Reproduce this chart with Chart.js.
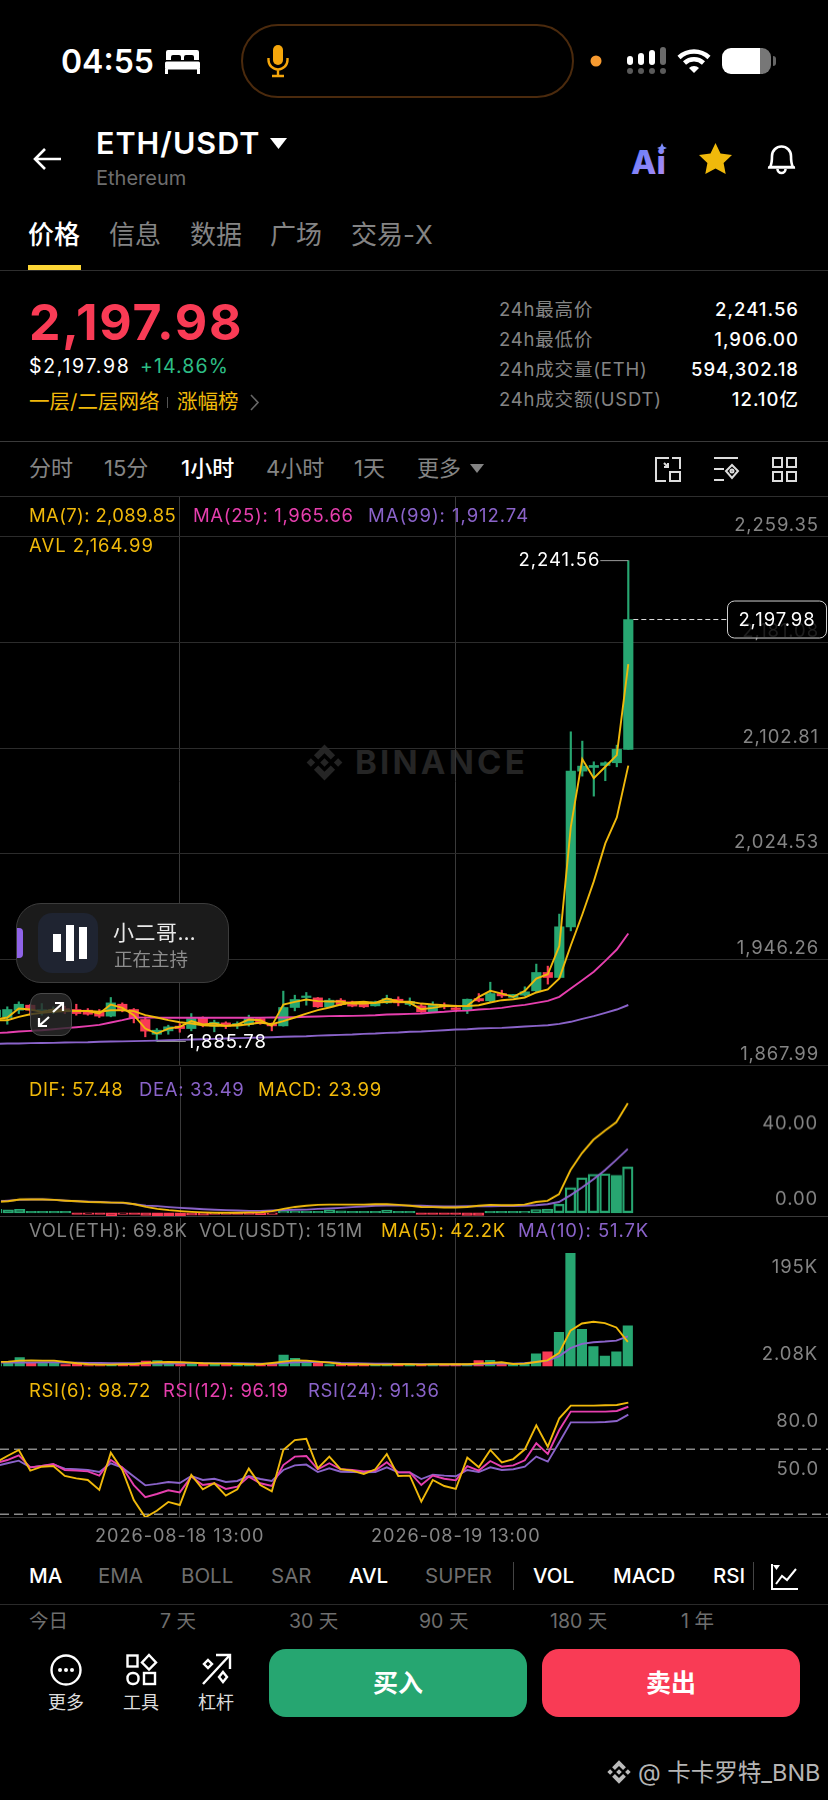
<!DOCTYPE html>
<html lang="zh">
<head>
<meta charset="UTF-8">
<title>ETH/USDT</title>
<script src="https://cdn.jsdelivr.net/npm/chart.js"></script>
<style>
  html, body { margin: 0; background: #000; }
  #page { position: relative; width: 828px; height: 1800px; overflow: hidden; background: #000; color: #fff;
          font-family: Inter, "Noto Sans CJK SC", sans-serif; }
  .t { position: absolute; white-space: nowrap; transform: translateY(-50%); line-height: 1; }
  .r { text-align: right; }
  .hr { position: absolute; left: 0; width: 828px; height: 1px; background: #2e2e2e; }
  .panel { position: absolute; left: 0; width: 828px; z-index: 1; }
  svg { position: absolute; overflow: visible; }
  .grey { color: #848484; }
  .dim { color: #6e6e6e; }
  .yel { color: #F0B90B; }
  .pink { color: #E63FAE; }
  .pur { color: #8A63C9; }
  .leg { font-size: 18.5px; letter-spacing: .65px; }
  .ind { font-size: 20.5px; top: 1576px; font-weight: 500; }
  .rng { font-size: 19.5px; top: 1622px; color: #6e6e6e; }
  .btn { position: absolute; top: 1649px; height: 68px; width: 258px; border-radius: 17px; text-align: center;
         line-height: 68px; font-size: 25px; font-weight: 700; }
  .ico { font-size: 18px; top: 1703px; color: #ddd; }
  .stat { font-size: 18.5px; letter-spacing: .8px; }
  .val { font-size: 18.5px; font-weight: 500; letter-spacing: 1px; right: 29px; }
  .tf { font-size: 22px; top: 468px; }
</style>
</head>
<body>
<div id="page">

  <!-- status bar -->
  <span class="t" style="left:61px;top:62px;font-size:32px;font-weight:600">04:55</span>
  <svg style="left:165px;top:50px" width="35" height="24" viewBox="0 0 35 24" fill="#fff">
    <path d="M3 0h29a2 2 0 0 1 2 2v8h-5V7a2 2 0 0 0-2-2h-6a2 2 0 0 0-2 2v3h-3V7a2 2 0 0 0-2-2H8a2 2 0 0 0-2 2v3H1V2a2 2 0 0 1 2-2z"/>
    <rect x="0" y="11.5" width="35" height="8" rx="1.5"/><rect x="0" y="19" width="3" height="5"/><rect x="32" y="19" width="3" height="5"/>
  </svg>
  <div style="position:absolute;left:241px;top:24px;width:329px;height:70px;border:2.5px solid #4b2a0d;border-radius:37px"></div>
  <svg style="left:267px;top:45px" width="22" height="32" viewBox="0 0 22 32" fill="none" stroke="#F5A60B" stroke-width="2.4">
    <rect x="6" y="0" width="10" height="20" rx="5" fill="#F5A60B" stroke="none"/>
    <path d="M1.5 13v2a9.5 9.5 0 0 0 19 0v-2M11 25v6M5 31h12"/>
  </svg>
  <svg style="left:590px;top:55px" width="12" height="12"><circle cx="6" cy="6" r="5.5" fill="#F79A30"/></svg>
  <svg style="left:627px;top:47px" width="40" height="28" fill="#fff">
    <rect x="0" y="9" width="6" height="9" rx="3"/><rect x="11" y="6" width="6" height="12" rx="3"/><rect x="22" y="3" width="6" height="15" rx="3"/>
    <rect x="33" y="0" width="6" height="18" rx="3" fill="#6a6a6a"/>
    <g fill="#5a5a5a"><circle cx="3" cy="24" r="3"/><circle cx="14" cy="24" r="3"/><circle cx="25" cy="24" r="3"/><circle cx="36" cy="24" r="3"/></g>
  </svg>
  <svg style="left:677px;top:48px" width="34" height="26" viewBox="0 0 34 26" fill="none" stroke="#fff" stroke-width="4.5">
    <path d="M2 9.5a22 22 0 0 1 30 0M7.5 15a14 14 0 0 1 19 0"/><path d="M17 25l-5-5a7 7 0 0 1 10 0z" fill="#fff" stroke="none"/>
  </svg>
  <div style="position:absolute;left:722px;top:48px;width:49px;height:26px;border-radius:9px;background:linear-gradient(90deg,#fff 0 78%,#777 78%)"></div>
  <div style="position:absolute;left:773px;top:56px;width:3px;height:10px;border-radius:0 3px 3px 0;background:#666"></div>

  <!-- title row -->
  <svg style="left:33px;top:147px" width="29" height="24" viewBox="0 0 29 24" fill="none" stroke="#fff" stroke-width="2.6"><path d="M28 12H2M12 2L2 12l10 10"/></svg>
  <span class="t" style="left:96px;top:143px;font-size:30.5px;font-weight:600;letter-spacing:1px">ETH/USDT</span>
  <svg style="left:270px;top:138px" width="17" height="11"><path d="M0 0h17l-8.5 11z" fill="#fff"/></svg>
  <span class="t dim" style="left:96px;top:178px;font-size:20px">Ethereum</span>
  <svg style="left:631px;top:143px" width="38" height="32" viewBox="0 0 38 32">
    <defs><linearGradient id="ai" x1="0" y1="0" x2="1" y2="1"><stop offset="0" stop-color="#5C7CFA"/><stop offset="1" stop-color="#B48CF5"/></linearGradient></defs>
    <text x="0" y="31" font-family="Inter" font-weight="800" font-size="33" fill="url(#ai)">Ai</text>
    <path d="M31 0l1.5 3.5L36 5l-3.5 1.5L31 10l-1.5-3.5L26 5l3.5-1.5z" fill="#7C8CFA"/>
  </svg>
  <svg style="left:699px;top:143px" width="33" height="31" viewBox="0 0 33 31"><path d="M16.5 0l5 10.6 11.5 1.5-8.4 8 2.1 11-10.2-5.6-10.2 5.6 2.1-11L0 12.1l11.5-1.5z" fill="#F0B90B"/></svg>
  <svg style="left:766px;top:143px" width="31" height="32" viewBox="0 0 31 32" fill="none" stroke="#fff" stroke-width="2.6"><path d="M4 24c2-3 2-6 2-11a9.5 9.5 0 0 1 19 0c0 5 0 8 2 11zM2 24.5h27M11.5 26a4 4 0 0 0 8 0"/></svg>

  <!-- tabs -->
  <span class="t" style="left:28px;top:235px;font-size:26px;font-weight:500">价格</span>
  <span class="t grey" style="left:109px;top:235px;font-size:26px">信息</span>
  <span class="t grey" style="left:190px;top:235px;font-size:26px">数据</span>
  <span class="t grey" style="left:270px;top:235px;font-size:26px">广场</span>
  <span class="t grey" style="left:351px;top:235px;font-size:26px">交易-X</span>
  <div style="position:absolute;left:28px;top:265px;width:53px;height:5px;background:#FCD535"></div>
  <div class="hr" style="top:270px"></div>

  <!-- ticker -->
  <span class="t" style="left:29px;top:322px;font-size:50px;font-weight:700;color:#F93B55;letter-spacing:1.7px">2,197.98</span>
  <span class="t" style="left:29px;top:367px;font-size:19.5px;letter-spacing:1.7px">$2,197.98</span>
  <span class="t" style="left:140px;top:367px;font-size:19.5px;color:#2DBD85;letter-spacing:1.1px">+14.86%</span>
  <span class="t yel" style="left:29px;top:402px;font-size:20.5px">一层/二层网络</span>
  <div style="position:absolute;left:167px;top:397px;width:1px;height:11px;background:#555"></div>
  <span class="t yel" style="left:177px;top:402px;font-size:20.5px">涨幅榜</span>
  <svg style="left:250px;top:394px" width="9" height="17" fill="none" stroke="#666" stroke-width="1.6"><path d="M1 1l7 7.5-7 7.5"/></svg>

  <span class="t grey stat" style="left:499px;top:309px">24h最高价</span>
  <span class="t grey stat" style="left:499px;top:339px">24h最低价</span>
  <span class="t grey stat" style="left:499px;top:369px">24h成交量(ETH)</span>
  <span class="t grey stat" style="left:499px;top:399px">24h成交额(USDT)</span>
  <span class="t r val" style="top:309px">2,241.56</span>
  <span class="t r val" style="top:339px">1,906.00</span>
  <span class="t r val" style="top:369px">594,302.18</span>
  <span class="t r val" style="top:399px">12.10亿</span>
  <div class="hr" style="top:441px;background:#3a3a3a"></div>

  <!-- interval row -->
  <span class="t grey tf" style="left:29px">分时</span>
  <span class="t grey tf" style="left:104px">15分</span>
  <span class="t tf" style="left:181px;font-weight:500">1小时</span>
  <span class="t grey tf" style="left:266px">4小时</span>
  <span class="t grey tf" style="left:354px">1天</span>
  <span class="t grey tf" style="left:417px">更多</span>
  <svg style="left:470px;top:464px" width="14" height="9"><path d="M0 0h14l-7 9z" fill="#848484"/></svg>
  <svg style="left:655px;top:457px" width="26" height="25" fill="none" stroke="#ddd" stroke-width="2"><path d="M14 1H1v23h10M25 12V1h-8M9 6l4 4M13 6v4H9"/><rect x="15" y="15" width="10" height="9"/></svg>
  <svg style="left:713px;top:457px" width="27" height="25" fill="none" stroke="#ddd" stroke-width="2"><path d="M1 1h24M1 12h10M1 23h10"/><path d="M19 8l6 6-6 7-6-7z"/><circle cx="19" cy="14" r="1.5"/></svg>
  <svg style="left:772px;top:457px" width="25" height="25" fill="none" stroke="#ddd" stroke-width="2"><rect x="1" y="1" width="9" height="9"/><rect x="15" y="1" width="9" height="9"/><rect x="1" y="15" width="9" height="9"/><rect x="15" y="15" width="9" height="9"/></svg>
  <div class="hr" style="top:496px"></div>

  <!-- chart watermark, sits under the price canvas -->
  <svg style="left:303px;top:741px" width="43" height="43" viewBox="0 0 24 24" fill="#252525">
    <path d="M12 9.6L14.4 12 12 14.4 9.6 12zM12 2l5.9 5.9-2.4 2.4L12 6.8l-3.5 3.5-2.4-2.4zM12 22l5.9-5.9-2.4-2.4-3.5 3.5-3.5-3.5-2.4 2.4zM2 12l2.4-2.4L6.8 12l-2.4 2.4zM22 12l-2.4-2.4-2.4 2.4 2.4 2.4z"/>
  </svg>
  <span class="t" style="left:355px;top:762px;font-size:33px;font-weight:700;letter-spacing:3.2px;color:#252525">BINANCE</span>

  <div class="panel" style="top:497px;height:569px"><canvas id="priceChart"></canvas></div>
  <div class="panel" style="top:1066px;height:150.5px"><canvas id="macdChart"></canvas></div>
  <div class="panel" style="top:1216.5px;height:150.5px"><canvas id="volChart"></canvas></div>
  <div class="panel" style="top:1367px;height:185px"><canvas id="rsiChart"></canvas></div>
  <div class="hr" style="top:1216px;z-index:2;background:#3a3a3a"></div>

  <!-- indicator legends -->
  <div style="position:absolute;inset:0;z-index:2;pointer-events:none">
    <span class="t leg yel" style="left:29px;top:515px;letter-spacing:.35px">MA(7): 2,089.85</span>
    <span class="t leg pink" style="left:193px;top:515px">MA(25): 1,965.66</span>
    <span class="t leg pur" style="left:368px;top:515px;letter-spacing:.95px">MA(99): 1,912.74</span>
    <span class="t leg yel" style="left:29px;top:545px;letter-spacing:.95px">AVL 2,164.99</span>
    <span class="t leg yel" style="left:29px;top:1089px">DIF: 57.48</span>
    <span class="t leg pur" style="left:139px;top:1089px">DEA: 33.49</span>
    <span class="t leg yel" style="left:258px;top:1089px">MACD: 23.99</span>
    <span class="t leg grey" style="left:29px;top:1230px">VOL(ETH): 69.8K</span>
    <span class="t leg grey" style="left:199px;top:1230px">VOL(USDT): 151M</span>
    <span class="t leg yel" style="left:381px;top:1230px">MA(5): 42.2K</span>
    <span class="t leg pur" style="left:518px;top:1230px;letter-spacing:.9px">MA(10): 51.7K</span>
    <span class="t leg yel" style="left:29px;top:1390px">RSI(6): 98.72</span>
    <span class="t leg pink" style="left:163px;top:1390px">RSI(12): 96.19</span>
    <span class="t leg pur" style="left:308px;top:1390px">RSI(24): 91.36</span>
  </div>

  <!-- floating host pill and expand button -->
  <div style="position:absolute;left:16px;top:903px;width:211px;height:78px;background:#1b1b1b;border:1.5px solid #3c3c3c;border-radius:25px;z-index:3"></div>
  <div style="position:absolute;left:17px;top:928px;width:6px;height:30px;background:#8F63E8;border-radius:0 4px 4px 0;z-index:4"></div>
  <div style="position:absolute;left:38px;top:913px;width:60px;height:60px;background:#1f2431;border-radius:14px;z-index:4"></div>
  <svg style="left:38px;top:913px;z-index:5" width="60" height="60" fill="#fff"><rect x="15" y="21" width="8" height="18"/><rect x="28" y="12" width="8" height="36"/><rect x="41" y="14" width="8" height="32"/></svg>
  <span class="t" style="left:113px;top:932px;font-size:21px;z-index:5;color:#e8e8e8;letter-spacing:.5px">小二哥…</span>
  <span class="t" style="left:114px;top:959px;font-size:18.5px;z-index:5;color:#8d8d8d">正在主持</span>
  <div style="position:absolute;left:30px;top:993px;width:40px;height:41px;background:rgba(42,42,42,.8);border:1.5px solid #4a4a4a;border-radius:11px;z-index:3"></div>
  <svg style="left:38px;top:1002px;z-index:4" width="26" height="25" fill="none" stroke="#fff" stroke-width="2.2"><path d="M15 10L25 1M17 1h8v8M11 15L1 24M9 24H1v-8"/></svg>

  <!-- indicator row -->
  <span class="t ind" style="left:29px">MA</span>
  <span class="t ind dim" style="left:98px;font-weight:400">EMA</span>
  <span class="t ind dim" style="left:181px;font-weight:400">BOLL</span>
  <span class="t ind dim" style="left:271px;font-weight:400">SAR</span>
  <span class="t ind" style="left:349px">AVL</span>
  <span class="t ind dim" style="left:425px;font-weight:400">SUPER</span>
  <div style="position:absolute;left:513px;top:1562px;width:1px;height:28px;background:#444"></div>
  <span class="t ind" style="left:533px">VOL</span>
  <span class="t ind" style="left:613px">MACD</span>
  <span class="t ind" style="left:713px">RSI</span>
  <div style="position:absolute;left:753px;top:1562px;width:1px;height:28px;background:#444"></div>
  <svg style="left:771px;top:1564px" width="27" height="26" fill="none" stroke="#fff" stroke-width="2"><path d="M1 0v25h26M5 20l6-8 5 4 9-11"/><path d="M2 1h7l-3.5 5z" fill="#fff" stroke="none"/></svg>
  <div class="hr" style="top:1604px;background:#2a2a2a"></div>

  <span class="t rng" style="left:29px">今日</span>
  <span class="t rng" style="left:160px">7 天</span>
  <span class="t rng" style="left:289px">30 天</span>
  <span class="t rng" style="left:419px">90 天</span>
  <span class="t rng" style="left:550px">180 天</span>
  <span class="t rng" style="left:681px">1 年</span>

  <!-- bottom actions -->
  <svg style="left:50px;top:1654px" width="32" height="32" fill="none" stroke="#fff" stroke-width="2.4"><circle cx="16" cy="16" r="14.5"/><g fill="#fff" stroke="none"><circle cx="10" cy="16" r="2"/><circle cx="16" cy="16" r="2"/><circle cx="22" cy="16" r="2"/></g></svg>
  <span class="t ico" style="left:48px">更多</span>
  <svg style="left:126px;top:1654px" width="31" height="31" fill="none" stroke="#fff" stroke-width="2.4"><rect x="1.5" y="1.5" width="10" height="11"/><path d="M23 1l7 7.5-7 7-7-7z"/><rect x="1.5" y="19" rx="5" width="11" height="11"/><rect x="18" y="19" width="11" height="11"/></svg>
  <span class="t ico" style="left:123px">工具</span>
  <svg style="left:202px;top:1654px" width="29" height="31" fill="none" stroke="#fff" stroke-width="2.4"><path d="M1 30L27 2M14 1h14v14"/><path d="M6 6l4 4-4 4-4-4zM21 18l4 5-4 5-4-5z"/></svg>
  <span class="t ico" style="left:198px">杠杆</span>
  <div class="btn" style="left:269px;background:#26A671">买入</div>
  <div class="btn" style="left:542px;background:#F93B55">卖出</div>

  <svg style="left:605px;top:1758px" width="28" height="28" viewBox="0 0 24 24" fill="#bbb">
    <path d="M12 9.6L14.4 12 12 14.4 9.6 12zM12 2l5.9 5.9-2.4 2.4L12 6.8l-3.5 3.5-2.4-2.4zM12 22l5.9-5.9-2.4-2.4-3.5 3.5-3.5-3.5-2.4 2.4zM2 12l2.4-2.4L6.8 12l-2.4 2.4zM22 12l-2.4-2.4-2.4 2.4 2.4 2.4z"/>
  </svg>
  <span class="t" style="left:638px;top:1773px;font-size:23.5px;color:#b5b5b5">@ 卡卡罗特_BNB</span>
</div>

<script>
// 1h candles, oldest first, index 0 is mostly off the left edge
const opens = [1904, 1903.5, 1908.9, 1912.6, 1908.2, 1907.7, 1910.1, 1909.4, 1908.9, 1907.7, 1904.5, 1913.3, 1909.4, 1902, 1891.1, 1893.6, 1897.1, 1895.3, 1903.5, 1897.1, 1899.5, 1897.3, 1898.3, 1902.7, 1899, 1897.3, 1910.9, 1918.3, 1918, 1911.4, 1916.3, 1915.1, 1914.3, 1912.1, 1914.3, 1917, 1913.1, 1912.1, 1907.7, 1912.6, 1910.6, 1908.9, 1917.5, 1915.8, 1921.2, 1918.3, 1920, 1923.2, 1936.8, 1933.1, 1970.6, 2085.8, 2088.5, 2090, 2092, 2101.9];
const highs = [1911, 1911.4, 1915.1, 1913.1, 1913.8, 1911.4, 1911.9, 1913.3, 1910.1, 1909.4, 1918.3, 1914.3, 1910.1, 1904, 1895.3, 1897.8, 1899, 1906.4, 1904, 1901.5, 1900.3, 1900.3, 1905.2, 1903.5, 1899.5, 1923, 1920, 1922, 1918.3, 1917.5, 1917.5, 1915.6, 1915.1, 1915.6, 1920, 1918.8, 1918, 1913.3, 1915.1, 1914.3, 1912.6, 1917.2, 1921.2, 1929.6, 1923.7, 1920.6, 1926.2, 1943, 1941.5, 1980, 2114.9, 2108, 2092.7, 2092.7, 2105, 2241.56];
const lows = [1902, 1898.5, 1906.4, 1905.2, 1905.2, 1906.4, 1906.4, 1905.2, 1905.2, 1903.5, 1904, 1907.7, 1899.5, 1889.2, 1885.78, 1891.1, 1892.6, 1893.6, 1896.6, 1892.9, 1895.3, 1895.3, 1897.1, 1898.5, 1893.6, 1897.1, 1908.4, 1912.6, 1910.9, 1910.9, 1912.3, 1911.4, 1910.9, 1911.9, 1913.8, 1912.1, 1912.1, 1907.2, 1907.2, 1909.9, 1907.7, 1906.4, 1915.1, 1915.1, 1918.3, 1918.2, 1919.3, 1922.5, 1928.2, 1932.6, 1967.6, 2082.1, 2067.3, 2078.7, 2089, 2101.9];
const closes = [1908.9, 1909.4, 1913.3, 1908.9, 1908.9, 1909.4, 1907.7, 1906.4, 1905.9, 1904.5, 1914.3, 1909.4, 1902.7, 1893.4, 1894.1, 1896.6, 1895.3, 1902.7, 1899, 1900, 1897.1, 1899, 1902.7, 1899, 1897.3, 1910.9, 1916.8, 1919.3, 1911.4, 1916.3, 1913.1, 1911.9, 1911.4, 1915.1, 1917.5, 1914.3, 1915.3, 1907.7, 1912.6, 1911.4, 1909.4, 1917, 1915.8, 1921.2, 1919.5, 1920.5, 1922.5, 1936.8, 1933.1, 1970.6, 2085.8, 2089.5, 2090, 2092, 2101.9, 2197.98];

const ma7 = [1901.5, 1901.5, 1904, 1905.9, 1906.9, 1907.7, 1908.2, 1908.4, 1908.4, 1907.7, 1908.9, 1908.9, 1908.2, 1905.2, 1903.5, 1901.5, 1900, 1899, 1897.8, 1897.3, 1897.3, 1897.6, 1898.5, 1899.8, 1898.5, 1900.8, 1903.5, 1906.4, 1908.9, 1910.9, 1913.1, 1914.6, 1915.1, 1914.3, 1915.1, 1915.1, 1915.1, 1913.8, 1913.1, 1912.6, 1912.1, 1911.9, 1912.6, 1914.6, 1916.3, 1917, 1918.3, 1922, 1924.2, 1932.4, 1956.8, 1979.7, 2004.2, 2032.3, 2051.5, 2089.85];
const ma25 = [1891.9, 1892.4, 1893.1, 1893.6, 1894.1, 1894.8, 1895.6, 1896.3, 1897.1, 1898, 1899.8, 1901.5, 1903.5, 1903.4, 1903.4, 1903.3, 1903.3, 1903.3, 1903.3, 1903.3, 1903.3, 1903.3, 1903.3, 1903.4, 1903.5, 1903.5, 1903.7, 1904, 1904.2, 1904.5, 1904.6, 1904.7, 1904.9, 1905.2, 1905.7, 1905.9, 1906.2, 1906.4, 1907.2, 1907.7, 1908.4, 1908.6, 1909.4, 1909.9, 1910.6, 1911.9, 1912.8, 1914.3, 1915.8, 1918.8, 1924.9, 1931.1, 1937.3, 1945.4, 1953.8, 1965.66];
const ma99 = [1884, 1884.2, 1884.3, 1884.5, 1884.6, 1884.7, 1885, 1885.1, 1885.2, 1885.5, 1885.7, 1885.8, 1886, 1886.2, 1886.4, 1886.7, 1886.9, 1887.2, 1887.4, 1887.7, 1887.9, 1888.2, 1888.4, 1888.7, 1888.9, 1889.2, 1889.4, 1889.6, 1890.1, 1890.4, 1890.6, 1890.9, 1891.4, 1891.6, 1892.1, 1892.4, 1892.9, 1893.1, 1893.6, 1894.1, 1894.6, 1894.8, 1895.3, 1895.6, 1895.8, 1896.3, 1896.8, 1897.3, 1897.8, 1898.8, 1900.3, 1902.5, 1904.5, 1906.9, 1909.4, 1912.74];
const avl = [1902, 1903.5, 1910.1, 1909.4, 1907.7, 1909.4, 1908.9, 1908.4, 1908.2, 1906.4, 1913.1, 1910.6, 1905.2, 1895.3, 1891.6, 1895.3, 1896.6, 1900.8, 1898.3, 1899, 1897.3, 1898.3, 1902, 1901.5, 1897.3, 1913.1, 1915.1, 1916.8, 1915.6, 1915.3, 1915.3, 1913.8, 1913.8, 1914.3, 1917.5, 1915.3, 1914.3, 1909.6, 1910.6, 1911.9, 1911.9, 1912.1, 1918.8, 1923.2, 1921.2, 1918.8, 1923.2, 1932.3, 1935.5, 1956.3, 2044.6, 2094.7, 2080.6, 2089, 2097.7, 2164.99];

const dif = [5.7, 6.1, 7, 7, 7, 6.8, 6.4, 6.1, 5.7, 5.6, 5.4, 5.4, 4.5, 3.1, 2.1, 1.4, 0.9, 0.5, 0.2, 0, 0, 0, 0.2, 0.3, 0.9, 2.1, 3.1, 3.7, 4.2, 4.3, 4.3, 4.3, 4.3, 4.5, 4.5, 4.2, 3.7, 3.1, 3, 2.8, 2.8, 3.1, 3.7, 4.2, 4, 4, 4.3, 5.7, 6.3, 9.7, 22.3, 31.3, 38.3, 43.1, 47.5, 57.48];
const dea = [6.1, 6.4, 6.8, 7, 7, 6.8, 6.4, 6.1, 5.9, 5.7, 5.4, 5.2, 4.5, 3.8, 3.5, 3, 2.6, 2.3, 1.9, 1.6, 1.4, 1.2, 1, 1, 1.2, 1.4, 1.6, 1.7, 2.1, 2.3, 2.6, 3, 3.3, 3.7, 3.8, 3.8, 3.8, 3.7, 3.5, 3.3, 3.3, 3.5, 3.4, 3.4, 3.5, 3.5, 3.7, 4, 4.5, 5.7, 9.2, 13.2, 17.6, 22.3, 27.8, 33.49];
const macd = [1.8, 1.6, 1.8, 0.8, 0.7, 0.6, 0.5, -0.6, -0.5, -0.5, -1.5, -0.5, -0.5, -1.4, -1.9, -1.9, -2, -1.3, -1.2, -0.7, -0.6, -0.8, -0.9, -1, -0.4, 0.3, 0.6, 0.8, 0.7, 1.6, 1, 0.6, 0.5, 0.5, 1.4, 0.6, 0.5, -0.5, -0.5, -0.5, -0.5, -1.4, -1.4, 0.8, 0.7, 0.6, 0.7, 1.7, 1.9, 4.5, 13.2, 18.3, 20.2, 20.5, 19.6, 23.99];

const volumes = [4, 5.7, 14.8, 5.1, 6.8, 5.7, 2.8, 4.5, 1.1, 1.1, 2.8, 2.8, 2.8, 9.1, 9.7, 5.1, 7.4, 5.1, 5.1, 4, 5.1, 1.7, 4, 1.7, 4, 19.3, 13.6, 6.8, 5.1, 2.8, 2.8, 4, 1.7, 2.8, 4, 2.8, 2.8, 4, 2.8, 2.8, 4, 4, 9.7, 10.2, 5.1, 2.8, 5.7, 21.6, 25, 58.5, 195, 63.6, 34, 17.6, 25, 69.8];
const volMa5 = [7.4, 8, 9.7, 10, 9.7, 9.7, 7.4, 5.1, 3.4, 2.8, 2.8, 3.4, 4, 5.7, 6.8, 7.4, 6.8, 6.2, 5.1, 4.5, 4.5, 4, 3.4, 3.4, 5.7, 8, 10.2, 9.7, 8, 6.2, 4, 3.4, 3.4, 2.8, 2.8, 3.4, 3.4, 2.8, 3.4, 3.4, 3.4, 3.4, 4.5, 5.7, 6.8, 4, 4.5, 7.4, 10.2, 22.7, 61.3, 73.8, 76.7, 74.4, 67, 42.2];
const volMa10 = [6.2, 6.2, 6.5, 6.5, 6.8, 6.8, 6.2, 6, 5.7, 5.7, 5.1, 5.1, 5.1, 5.1, 4.8, 4.8, 5.1, 5.4, 5.4, 5.4, 5.4, 5.1, 4.8, 4.5, 4.8, 5.7, 6.8, 7.4, 7.4, 6.8, 5.7, 5.1, 4.8, 4.5, 4.5, 4.2, 4, 3.7, 3.4, 3.1, 3.1, 3.1, 3.4, 4, 4.5, 4.5, 5.1, 7.4, 9.7, 17, 31.2, 38.6, 41.5, 42.6, 44.3, 51.7];

const rsi6 = [61.8, 65.9, 69.6, 56.9, 59.3, 59.7, 53.6, 52.1, 51.1, 45, 67.9, 57.3, 38.8, 28.1, 32.2, 37.6, 35.7, 54.2, 45.4, 49.1, 41.5, 45.4, 58.1, 48, 44.1, 69.6, 75.7, 76.5, 58.3, 65.5, 57.7, 56.9, 54.8, 57.7, 67.1, 53.6, 53.8, 37.8, 51.1, 47.4, 45.6, 64.9, 58.9, 69.6, 62, 64, 70, 84.8, 71.6, 89.1, 96.9, 96.9, 96.9, 97.1, 97.3, 98.72];
const rsi12 = [61.4, 63.4, 66.3, 58.9, 59.7, 61, 57.3, 56.9, 56.4, 53.8, 63.4, 58.9, 48, 40.6, 42.5, 44.8, 43.5, 53.2, 48, 49.1, 45.6, 47, 53.2, 49.1, 47.4, 60.3, 65.5, 65.9, 57.7, 61.4, 57.7, 57.3, 56.4, 56.9, 62, 55.8, 55.8, 48, 53.8, 51.9, 50.9, 59.7, 56.9, 62.8, 59.3, 60.1, 63.2, 73.7, 67.1, 81.9, 93.2, 93.2, 93.2, 93.2, 93.6, 96.19];
const rsi24 = [59.7, 61.4, 63, 58.9, 59.7, 60.6, 58.1, 57.7, 57.3, 56, 61.4, 58.7, 53.2, 47.8, 48.7, 49.9, 49.3, 53.6, 51.1, 51.9, 49.9, 50.5, 53.6, 51.7, 50.5, 57.3, 60.1, 60.6, 56, 58.3, 56.2, 56, 55.8, 56, 58.9, 55.8, 55.8, 51.7, 54.4, 53.8, 53.4, 57.3, 56, 58.9, 57.3, 57.7, 59.3, 65.5, 62.4, 74.3, 86.6, 86.6, 86.6, 86.8, 87.4, 91.36];
const rsiLevels = [70, 30];

const priceTicks = [2259.35, 2181.08, 2102.81, 2024.53, 1946.26, 1867.99];
const macdTicks = [40, 0];
const volTickLow = [2.08];
const volTickHigh = [195];
const rsiTicks = [80, 50];
const timeTicks = [16, 40];
const timeLabels = ['2026-08-18 13:00', '2026-08-19 13:00'];

const UP = '#27A671', DOWN = '#F93B55', YELLOW = '#F0B90B', PINK = '#E63FAE', PURPLE = '#8A63C9';
const TICK_GREY = '#848484', GRID = '#2c2c2c', VLINE = '#3a3a3a';
const FONT = 'Inter, "Noto Sans CJK SC", sans-serif';
const X_MIN = 0.365, X_MAX = 72.365;   // keeps one candle = 11.5px with the last one at x=628

const fmtPrice = v => v.toLocaleString('en-US', { minimumFractionDigits: 2, maximumFractionDigits: 2 });
const pts = arr => arr.map((v, i) => ({ x: i, y: v }));
const isUp = i => closes[i] >= opens[i];

// the app's axis text is wider than Inter, letterSpacing has to be set again after every resize
Chart.register({ id: 'wideText', beforeDraw(chart) { chart.ctx.letterSpacing = '0.9px'; } });

function line(data, color, yAxisID = 'y') {
    return { type: 'line', data: pts(data), borderColor: color, borderWidth: 1.9, pointRadius: 0, tension: 0, order: 0, yAxisID };
}

function xAxis(showLabels) {
    return {
        type: 'linear', min: X_MIN, max: X_MAX, offset: false,
        afterBuildTicks: s => { s.ticks = timeTicks.map(v => ({ value: v })); },
        afterFit: s => { s.height = showLabels ? 35 : 0; s.paddingLeft = s.paddingRight = 0; },
        grid: { color: VLINE, lineWidth: 1, drawTicks: false, offset: false },
        border: { display: showLabels, color: '#333' },
        ticks: {
            display: showLabels, autoSkip: false, maxRotation: 0, padding: 9, color: TICK_GREY,
            font: { family: FONT, size: 18.2 },
            callback: v => timeLabels[timeTicks.indexOf(v)]
        }
    };
}

function yAxis(min, max, values, fmt, labelOffset, showGrid) {
    return {
        position: 'right', min, max,
        afterBuildTicks: s => { s.ticks = values.map(v => ({ value: v })); },
        afterFit: s => { s.width = 0; s.paddingTop = s.paddingBottom = 0; },
        grid: { display: showGrid, color: GRID, drawTicks: false },
        border: { display: false },
        // mirrored right axis: x = left + padding, so negative pulls the labels back in
        ticks: { mirror: true, padding: -9, labelOffset, color: TICK_GREY, font: { family: FONT, size: 18.5 }, callback: fmt }
    };
}

function makeChart(id, datasets, scales, plugins = [], showLabels = false) {
    return new Chart(document.getElementById(id), {
        type: 'bar',
        data: { datasets },
        options: {
            responsive: true, maintainAspectRatio: false, animation: false,
            layout: { padding: 0 },
            plugins: { legend: { display: false }, tooltip: { enabled: false } },
            scales: { x: xAxis(showLabels), ...scales }
        },
        plugins
    });
}

// high/low callouts and the last price tag on the price panel
const priceMarks = {
    id: 'priceMarks',
    afterDraw(chart) {
        const { ctx, scales: { x, y } } = chart;
        const last = closes.length - 1;
        const hi = Math.max(...highs), lo = Math.min(...lows);
        const hx = x.getPixelForValue(highs.indexOf(hi)), hy = y.getPixelForValue(hi);
        const lx = x.getPixelForValue(lows.indexOf(lo)), ly = y.getPixelForValue(lo);
        const cy = y.getPixelForValue(closes[last]), cx = x.getPixelForValue(last);
        ctx.save();
        ctx.font = '18.5px ' + FONT;
        ctx.textBaseline = 'middle';
        ctx.strokeStyle = '#9a9a9a';
        ctx.lineWidth = 1;
        ctx.beginPath();
        ctx.moveTo(hx, hy); ctx.lineTo(hx - 28, hy);
        ctx.moveTo(lx, ly); ctx.lineTo(lx + 29, ly);
        ctx.stroke();
        ctx.fillStyle = '#fff';
        ctx.textAlign = 'right';
        ctx.fillText(fmtPrice(hi), hx - 28, hy);
        ctx.textAlign = 'left';
        ctx.fillText(fmtPrice(lo), lx + 30, ly + 1);

        ctx.strokeStyle = '#ddd';
        ctx.setLineDash([5, 3]);
        ctx.beginPath();
        ctx.moveTo(cx + 5, cy); ctx.lineTo(727, cy);
        ctx.stroke();
        ctx.setLineDash([]);
        ctx.fillStyle = 'rgba(0,0,0,.78)';
        ctx.strokeStyle = '#cfcfcf';
        ctx.beginPath();
        ctx.roundRect(727.5, cy - 18.5, 99, 37, 7);
        ctx.fill();
        ctx.stroke();
        ctx.fillStyle = '#fff';
        ctx.textAlign = 'center';
        ctx.fillText(fmtPrice(closes[last]), 777, cy + 1);
        ctx.restore();
    }
};

makeChart('priceChart', [
    line(avl, YELLOW),
    line(ma7, YELLOW),
    line(ma25, PINK),
    line(ma99, PURPLE),
    {
        data: highs.map((h, i) => ({ x: i, y: [lows[i], h] })), grouped: false, order: 3, barThickness: 1.5,
        backgroundColor: c => isUp(c.dataIndex) ? UP : DOWN
    },
    {
        data: opens.map((o, i) => ({ x: i, y: [o, closes[i]] })), grouped: false, order: 2, barThickness: 9.5, minBarLength: 1.5,
        backgroundColor: c => isUp(c.dataIndex) ? UP : DOWN
    }
], { y: yAxis(1867.6, 2288.64, priceTicks, fmtPrice, -11, true) }, [priceMarks]);

const macdColor = c => macd[c.dataIndex] >= 0 ? UP : DOWN;
const macdRising = i => i > 0 && macd[i] > macd[i - 1];
makeChart('macdChart', [
    line(dif, YELLOW),
    line(dea, PURPLE),
    {
        data: pts(macd), grouped: false, order: 2, barThickness: 10.5, minBarLength: 1.5,
        borderSkipped: false, borderWidth: 1.6, borderColor: macdColor,
        backgroundColor: c => macdRising(c.dataIndex) ? 'transparent' : macdColor(c)
    }
], { y: yAxis(-1.98, 76.5, macdTicks, v => v.toFixed(2), -13, false) });

const volScale = (values, fmt, off) => yAxis(-0.5, 255.9, values, fmt, off, false);
makeChart('volChart', [
    line(volMa5, YELLOW),
    line(volMa10, PURPLE),
    {
        data: pts(volumes), grouped: false, order: 2, barThickness: 9.5,
        backgroundColor: c => isUp(c.dataIndex) ? UP : DOWN
    }
], {
    y: volScale(volTickLow, v => v + 'K', -11),
    yTop: volScale(volTickHigh, v => v + 'K', 13.7)
});

makeChart('rsiChart', [
    line(rsi6, YELLOW),
    line(rsi12, PINK),
    line(rsi24, PURPLE),
    ...rsiLevels.map(v => ({
        type: 'line', data: [{ x: X_MIN, y: v }, { x: X_MAX, y: v }], borderColor: '#8a8a8a', borderWidth: 1.5,
        borderDash: [9, 5], pointRadius: 0, order: 4
    }))
], { y: yAxis(28.34, 120.65, rsiTicks, v => v.toFixed(1), -12, false) }, [], true);
</script>
</body>
</html>
